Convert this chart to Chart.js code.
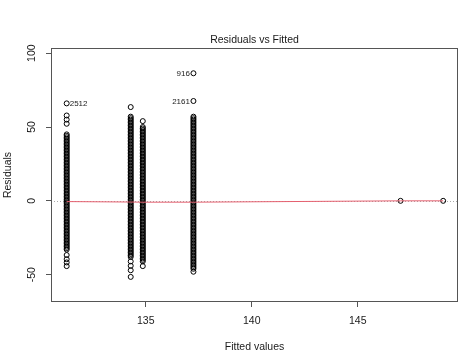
<!DOCTYPE html>
<html>
<head>
<meta charset="utf-8">
<title>Residuals vs Fitted</title>
<script src="https://cdn.jsdelivr.net/npm/chart.js@4.4.1/dist/chart.umd.min.js"></script>
<style>
    html, body { margin: 0; padding: 0; background: #ffffff; }
    canvas { display: block; }
</style>
</head>
<body>
<canvas id="residChart" width="474" height="353"></canvas>
<script>
/* ---- DATA ---- */
const fittedLevels = [131.27, 134.29, 134.86, 137.25, 147.02, 149.03];

// residuals at each fitted level
const residAt131 = [
    66, 57.8, 55, 52.2,
    45, 44, 43, 42, 41, 40, 39, 38, 37, 36,
    35, 34, 33, 32, 31, 30, 29, 28, 27, 26,
    25, 24, 23, 22, 21, 20, 19, 18, 17, 16,
    15, 14, 13, 12, 11, 10, 9, 8, 7, 6,
    5, 4, 3, 2, 1, 0, -1, -2, -3, -4,
    -5, -6, -7, -8, -9, -10, -11, -12, -13, -14,
    -15, -16, -17, -18, -19, -20, -21, -22, -23, -24,
    -25, -26, -27, -28, -29, -30, -31, -32, -33,
    -36.7, -39.5, -41.7, -44.2
];
const residAt134a = [
    63.5,
    57, 56, 55, 54, 53, 52, 51, 50, 49, 48, 47, 46,
    45, 44, 43, 42, 41, 40, 39, 38, 37, 36,
    35, 34, 33, 32, 31, 30, 29, 28, 27, 26,
    25, 24, 23, 22, 21, 20, 19, 18, 17, 16,
    15, 14, 13, 12, 11, 10, 9, 8, 7, 6,
    5, 4, 3, 2, 1, 0, -1, -2, -3, -4,
    -5, -6, -7, -8, -9, -10, -11, -12, -13, -14,
    -15, -16, -17, -18, -19, -20, -21, -22, -23, -24,
    -25, -26, -27, -28, -29, -30, -31, -32, -33, -34,
    -35, -36, -37, -38,
    -41, -44, -47, -51.5
];
const residAt134b = [
    54,
    50, 49, 48, 47, 46,
    45, 44, 43, 42, 41, 40, 39, 38, 37, 36,
    35, 34, 33, 32, 31, 30, 29, 28, 27, 26,
    25, 24, 23, 22, 21, 20, 19, 18, 17, 16,
    15, 14, 13, 12, 11, 10, 9, 8, 7, 6,
    5, 4, 3, 2, 1, 0, -1, -2, -3, -4,
    -5, -6, -7, -8, -9, -10, -11, -12, -13, -14,
    -15, -16, -17, -18, -19, -20, -21, -22, -23, -24,
    -25, -26, -27, -28, -29, -30, -31, -32, -33, -34,
    -35, -36, -37, -38, -39, -40, -41,
    -44.2
];
const residAt137 = [
    86.4, 67.6,
    57, 56, 55, 54, 53, 52, 51, 50, 49, 48, 47, 46,
    45, 44, 43, 42, 41, 40, 39, 38, 37, 36,
    35, 34, 33, 32, 31, 30, 29, 28, 27, 26,
    25, 24, 23, 22, 21, 20, 19, 18, 17, 16,
    15, 14, 13, 12, 11, 10, 9, 8, 7, 6,
    5, 4, 3, 2, 1, 0, -1, -2, -3, -4,
    -5, -6, -7, -8, -9, -10, -11, -12, -13, -14,
    -15, -16, -17, -18, -19, -20, -21, -22, -23, -24,
    -25, -26, -27, -28, -29, -30, -31, -32, -33, -34,
    -35, -36, -37, -38, -39, -40, -41, -42, -43, -44,
    -45, -46,
    -48
];
const residAt147 = [0];
const residAt149 = [0];

const residGroups = [residAt131, residAt134a, residAt134b, residAt137, residAt147, residAt149];

// lowess smoother (red line)
const smoothX = [131.27, 134.29, 134.86, 137.25, 147.02, 149.03];
const smoothY = [-0.5, -0.8, -0.9, -0.9, 0, 0];

// labelled observations
const idLabels = ['2512', '916', '2161'];
const idFitted = [131.27, 137.25, 137.25];
const idResid = [66, 86.4, 67.6];

// axes
const xRange = [130.53, 149.73];
const yRange = [-68.5, 103.5];
const xTicks = [135, 140, 145];
const yTicks = [-50, 0, 50, 100];

/* ---- STYLE ---- */
const FONT = "'Liberation Sans', Arial, Helvetica, sans-serif";
const INK = '#1a1a1a';
const AXIS = '#555555';

/* ---- BUILD POINTS ---- */
const residPoints = [];
residGroups.forEach((group, i) => {
    group.forEach(r => residPoints.push({ x: fittedLevels[i], y: r }));
});

const smoothPoints = smoothX.map((x, i) => ({ x: x, y: smoothY[i] }));

/* ---- PLUGINS ---- */
const zeroLine = {
    id: 'zeroLine',
    beforeDatasetsDraw(chart) {
        const { ctx, chartArea, scales } = chart;
        const y = Math.round(scales.y.getPixelForValue(0)) + 0.5;
        ctx.save();
        ctx.strokeStyle = '#aaaaaa';
        ctx.lineWidth = 1;
        ctx.setLineDash([1, 2]);
        ctx.beginPath();
        ctx.moveTo(chartArea.left, y);
        ctx.lineTo(chartArea.right, y);
        ctx.stroke();
        ctx.restore();
    }
};

const frameAndLabels = {
    id: 'frameAndLabels',
    afterDraw(chart) {
        const { ctx, chartArea, scales } = chart;
        ctx.save();

        // plot box
        const l = Math.round(chartArea.left) + 0.5;
        const t = Math.round(chartArea.top) + 0.5;
        const r = Math.round(chartArea.right) - 0.5;
        const b = Math.round(chartArea.bottom) - 0.5;
        ctx.strokeStyle = AXIS;
        ctx.lineWidth = 1;
        ctx.strokeRect(l, t, r - l, b - t);

        // rotated y tick labels, R style
        ctx.fillStyle = INK;
        ctx.font = '10.5px ' + FONT;
        ctx.textAlign = 'center';
        ctx.textBaseline = 'middle';
        scales.y.ticks.forEach(tk => {
            const py = scales.y.getPixelForValue(tk.value);
            ctx.save();
            ctx.translate(32.5, py);
            ctx.rotate(-Math.PI / 2);
            ctx.fillText(String(tk.value), 0, 0);
            ctx.restore();
        });

        // observation ids
        ctx.font = '8px ' + FONT;
        idLabels.forEach((lab, i) => {
            const px = scales.x.getPixelForValue(idFitted[i]);
            const py = scales.y.getPixelForValue(idResid[i]);
            const toRight = idFitted[i] < 134;
            ctx.textAlign = toRight ? 'left' : 'right';
            ctx.fillText(lab, toRight ? px + 3 : px - 3.5, py + 0.5);
        });

        ctx.restore();
    }
};

/* ---- CHART ---- */
new Chart(document.getElementById('residChart'), {
    type: 'scatter',
    data: {
        datasets: [
            {
                type: 'line',
                label: 'Smoother',
                data: smoothPoints,
                borderColor: '#e5606f',
                borderWidth: 1,
                pointRadius: 0,
                tension: 0,
                fill: false
            },
            {
                label: 'Residuals',
                data: residPoints,
                pointStyle: 'circle',
                pointRadius: 2.5,
                borderWidth: 1,
                borderColor: '#000000',
                backgroundColor: 'rgba(0,0,0,0)'
            }
        ]
    },
    options: {
        responsive: false,
        animation: false,
        layout: { padding: { left: 0, right: 16, top: 0, bottom: 0 } },
        plugins: {
            legend: { display: false },
            tooltip: { enabled: false },
            title: {
                display: true,
                fullSize: false,
                text: 'Residuals vs Fitted',
                color: INK,
                font: { family: FONT, size: 10.5, weight: 'normal' },
                padding: { top: 34, bottom: 1.4 }
            }
        },
        scales: {
            x: {
                type: 'linear',
                min: xRange[0],
                max: xRange[1],
                afterBuildTicks: s => { s.ticks = xTicks.map(v => ({ value: v })); },
                afterFit: s => { s.height = 51; },
                ticks: {
                    color: INK,
                    font: { family: FONT, size: 10.5 },
                    padding: 8
                },
                grid: {
                    display: true,
                    drawOnChartArea: false,
                    drawTicks: true,
                    tickLength: 5,
                    color: AXIS
                },
                border: { display: false },
                title: {
                    display: true,
                    text: 'Fitted values',
                    color: INK,
                    font: { family: FONT, size: 10.5 },
                    padding: { top: 0, bottom: 0 }
                }
            },
            y: {
                type: 'linear',
                min: yRange[0],
                max: yRange[1],
                afterBuildTicks: s => { s.ticks = yTicks.map(v => ({ value: v })); },
                afterFit: s => { s.width = 51; },
                ticks: { display: false },
                grid: {
                    display: true,
                    drawOnChartArea: false,
                    drawTicks: true,
                    tickLength: 5,
                    color: AXIS
                },
                border: { display: false },
                title: {
                    display: true,
                    text: 'Residuals',
                    color: INK,
                    font: { family: FONT, size: 10.5 },
                    padding: { top: 2, bottom: 0 }
                }
            }
        }
    },
    plugins: [zeroLine, frameAndLabels]
});
</script>
</body>
</html>
